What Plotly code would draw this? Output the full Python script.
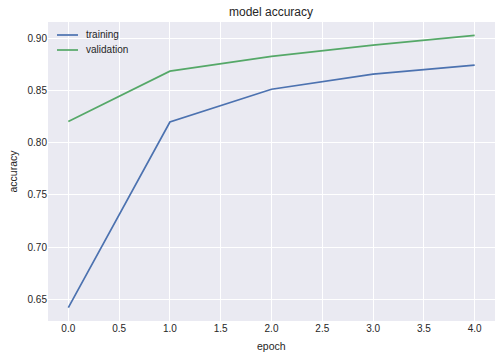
import plotly.graph_objects as go

epochs = [0, 1, 2, 3, 4]
training = [0.642, 0.8198, 0.8512, 0.8656, 0.8743]
validation = [0.8202, 0.8685, 0.8826, 0.8935, 0.9028]
x_ticks = [0, 0.5, 1, 1.5, 2, 2.5, 3, 3.5, 4]
y_ticks = [0.65, 0.70, 0.75, 0.80, 0.85, 0.90]
series_names = ["training", "validation"]
series_colors = ["#4C72B0", "#55A868"]

font_family = "Liberation Sans, Arial, sans-serif"
text_color = "#262626"

W, H = 501, 359
L, R, T, B = 48, 6, 22, 38
pw, ph = W - L - R, H - T - B

def px_x(px):
    return (px - L) / pw

def px_y(py):
    return 1 - (py - T) / ph

fig = go.Figure()
for name, vals, col in zip(series_names, [training, validation], series_colors):
    fig.add_trace(go.Scatter(x=epochs, y=vals, mode="lines", name=name,
                             line=dict(color=col, width=1.7)))

# legend drawn in paper coordinates
for i, (name, col) in enumerate(zip(series_names, series_colors)):
    yy = px_y(35 + 15 * i)
    fig.add_shape(type="line", xref="paper", yref="paper",
                  x0=px_x(57), x1=px_x(78), y0=yy, y1=yy,
                  line=dict(color=col, width=1.7))
    fig.add_annotation(xref="paper", yref="paper", x=px_x(84), y=yy,
                       text=name, showarrow=False, xanchor="left", yanchor="middle",
                       font=dict(size=10, color=text_color))

fig.add_annotation(xref="paper", yref="paper", x=px_x(12), y=0.5, text="accuracy",
                   textangle=-90, showarrow=False, xanchor="center", yanchor="middle",
                   font=dict(size=10.5, color=text_color))
fig.add_annotation(xref="paper", yref="paper", x=0.5, y=px_y(346), text="epoch",
                   showarrow=False, xanchor="center", yanchor="middle",
                   font=dict(size=10.5, color=text_color))

fig.update_layout(
    width=W, height=H,
    margin=dict(l=L, r=R, t=T, b=B, autoexpand=False),
    paper_bgcolor="white",
    plot_bgcolor="#EAEAF2",
    font=dict(family=font_family, size=10, color=text_color),
    title=dict(text="model accuracy", x=px_x(271), xref="paper", xanchor="center",
               y=1 - 12 / H, yref="container", yanchor="middle",
               font=dict(size=12, color=text_color)),
    showlegend=False,
)
fig.update_xaxes(
    range=[-0.2, 4.2], tickvals=x_ticks, ticktext=[f"{v:.1f}" for v in x_ticks],
    showgrid=True, gridcolor="white", gridwidth=1, zeroline=False, showline=False,
    ticks="", automargin=False,
)
fig.update_yaxes(
    range=[0.6292, 0.9156], tickvals=y_ticks, ticktext=[f"{v:.2f}" for v in y_ticks],
    showgrid=True, gridcolor="white", gridwidth=1, zeroline=False, showline=False,
    ticks="", automargin=False,
)

fig.write_html("out.html", config={"displayModeBar": False},
               post_script="document.body.style.margin='0';document.body.style.overflow='hidden';")
